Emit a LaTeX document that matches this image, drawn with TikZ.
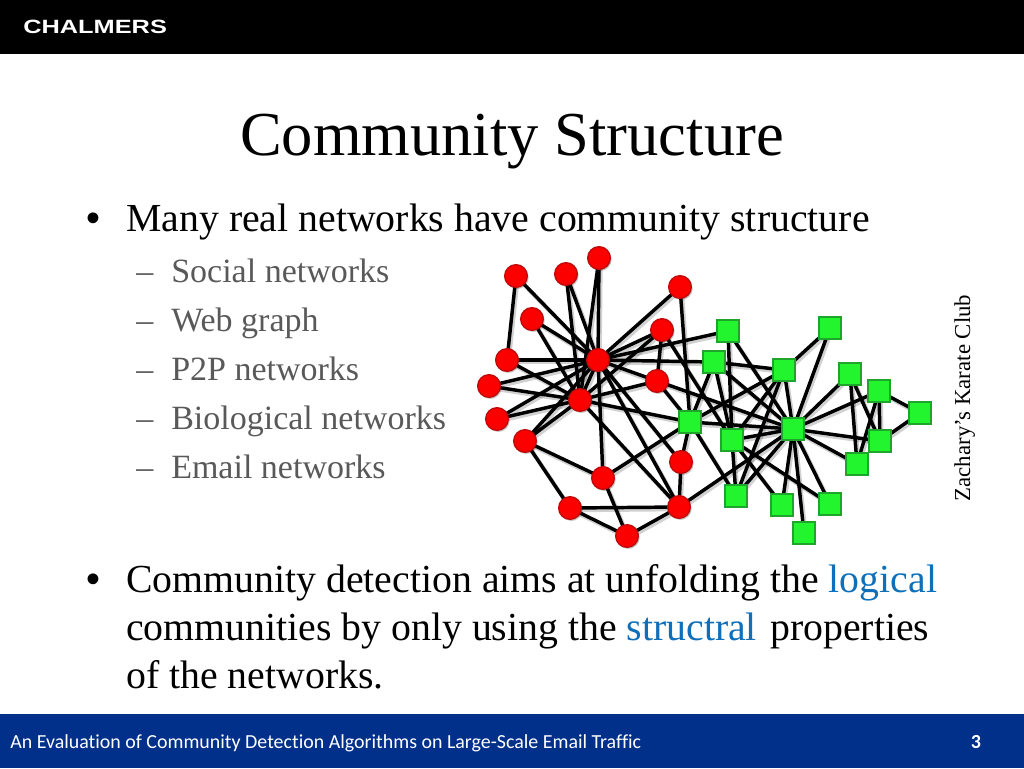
\documentclass[tikz,border=0pt]{standalone}
\usepackage{fontspec}
\setmainfont{Liberation Serif}
\newfontfamily\footfont[Ligatures=NoCommon]{Carlito}
\newfontfamily\logofont{Liberation Sans}
\usetikzlibrary{shapes.geometric,backgrounds,shadows}
\definecolor{bandblue}{HTML}{00308A}
\definecolor{linkblue}{HTML}{0F6FB8}
\definecolor{subgray}{HTML}{595959}
\definecolor{redfill}{HTML}{FC0000}
\definecolor{redline}{HTML}{C00A0A}
\definecolor{greenfill}{HTML}{22F52E}
\definecolor{greenline}{HTML}{1FA52B}
\tikzset{
  x=0.75pt,y=-0.75pt,
  nodeshadow/.style={drop shadow={shadow xshift=1pt,shadow yshift=-1.2pt,opacity=.22,fill=black}},
  rednode/.style={circle,draw=redline,fill=redfill,line width=1pt,minimum size=17pt,inner sep=0pt,nodeshadow},
  greennode/.style={rectangle,draw=greenline,fill=greenfill,line width=1pt,minimum size=16.3pt,inner sep=0pt,nodeshadow},
  edge/.style={draw=black,line width=2.6pt},
  edgeshadow/.style={draw=black,opacity=.18,line width=3.2pt},
  bodytext/.style={anchor=base west,inner sep=0pt,font=\fontsize{29.83}{34}\selectfont},
  subtext/.style={anchor=base west,inner sep=0pt,text=subgray,font=\fontsize{25.5}{30}\selectfont},
}
\newcommand{\link}[2]{%
  \draw[edgeshadow] ([shift={(1.2pt,-1.6pt)}]#1.center) -- ([shift={(1.2pt,-1.6pt)}]#2.center);
  \draw[edge] (#1.center) -- (#2.center);}
\begin{document}
\begin{tikzpicture}
\useasboundingbox (0,0) rectangle (1024,768);
\fill[black] (0,0) rectangle (1024,54);
\fill[bandblue] (0,714) rectangle (1024,768);
\node[anchor=base west,inner sep=0pt,text=white,xscale=1.32,font=\logofont\bfseries\fontsize{14.4}{16}\selectfont] (logo) at (23,33) {CHALMERS};
\node[anchor=base,inner sep=0pt,font=\fontsize{46.9}{50}\selectfont] (title) at (512,155) {Community Structure};

\node[bodytext] (b1) at (86,231) {\logofont •};
\node[bodytext] (t1) at (126,231) {Many real networks have community structure};
\node[subtext] (d1) at (136,282) {–};
\node[subtext] (s1) at (171,282) {Social networks};
\node[subtext] (d2) at (136,331) {–};
\node[subtext] (s2) at (171,331) {Web graph};
\node[subtext] (d3) at (136,380) {–};
\node[subtext] (s3) at (171,380) {P2P networks};
\node[subtext] (d4) at (136,429) {–};
\node[subtext] (s4) at (171,429) {Biological networks};
\node[subtext] (d5) at (136,478) {–};
\node[subtext] (s5) at (171,478) {Email networks};
\node[bodytext] (b2) at (86,592) {\logofont •};
\node[bodytext] (t2) at (126,592) {Community detection aims at unfolding the \textcolor{linkblue}{logical}};
\node[bodytext] (t3) at (126,640) {communities by only using the \textcolor{linkblue}{structral}\hspace{0.085em} properties};
\node[bodytext] (t4) at (126,688) {of the networks.};

\node[anchor=base,inner sep=0pt,rotate=90,font=\fontsize{17.1}{20}\selectfont] (club) at (970,398) {Zachary’s Karate Club};
\node[anchor=base west,inner sep=0pt,text=white,font=\footfont\fontsize{14.95}{16}\selectfont] (foot) at (10,748) {An Evaluation of Community Detection Algorithms on Large-Scale Email Traffic};
\node[anchor=base,inner sep=0pt,text=white,font=\footfont\bfseries\fontsize{15}{16}\selectfont] (page) at (976,748) {3};

\foreach \n/\x/\y in {a1/516/276,a2/566/274,a3/599/258,a4/680/287,a5/532/319,a6/662/330,a7/507/360,c/598/360,a8/489/386,a9/657/381,d/580/400,a10/497/419,a11/525/441,a12/681/462,a13/603/478,a14/570/508,a15/679/507,a16/627/536}
  \node[rednode] (\n) at (\x,\y) {};
\foreach \n/\x/\y in {g1/728/331,g2/830/328,g3/714/362,g4/784/370,g5/850/374,g6/879/391,g7/920/413,g8/690/422,g9/732/440,g10/793/429,g11/880/441,g12/857/464,g13/736/496,g14/782/505,g15/830/504,g16/804/533}
  \node[greennode] (\n) at (\x,\y) {};

\begin{scope}[on background layer]
\foreach \p/\q in {a1/a7,a1/c,a2/c,a2/d,a3/c,a3/d,a4/c,a4/g8,a5/c,a5/d,a6/c,a6/d,a6/a9,a6/g9,
  a7/c,a7/d,a8/c,a8/d,a9/c,a9/d,a9/g8,a9/g10,a10/c,a10/d,a11/c,a11/d,a11/a13,a11/a14,
  c/d,c/a13,c/a15,c/a12,c/g3,c/g1,d/g8,d/a15,a12/a15,a12/g8,a13/g8,a13/a16,a14/a15,a14/a16,a15/a16,a15/g10,
  g1/g9,g1/g10,g2/g4,g2/g10,g3/g4,g3/g8,g3/g9,g3/g10,g4/g10,g4/g8,g4/g9,g4/g13,
  g5/g10,g5/g12,g5/g11,g6/g10,g6/g11,g6/g12,g6/g7,g7/g11,g8/g10,g8/g13,
  g9/g10,g9/g15,g9/g13,g9/g14,g10/g11,g10/g12,g10/g13,g10/g14,g10/g15,g10/g16}
  {\link{\p}{\q}}
\end{scope}
\end{tikzpicture}
\end{document}
